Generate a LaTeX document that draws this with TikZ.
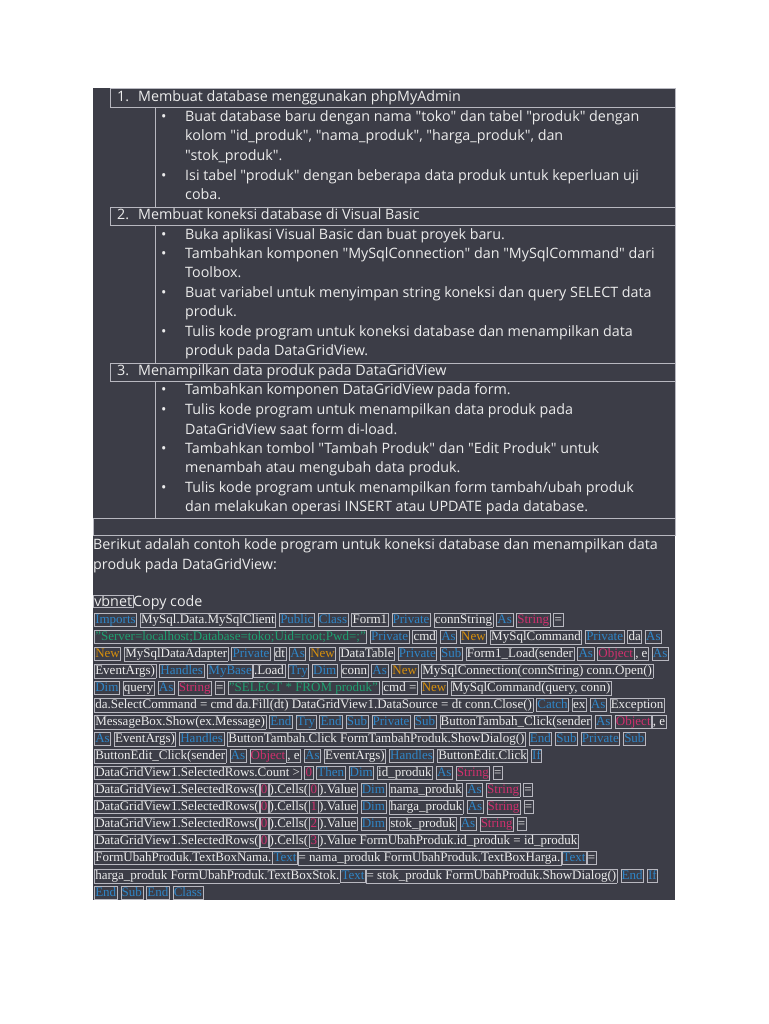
\documentclass[tikz,border=0pt]{standalone}
\usepackage{fontspec}
\setmainfont{Liberation Serif}
\newfontfamily\uifont{Open Sans}
\definecolor{bgd}{HTML}{3C3D47}
\definecolor{fg}{HTML}{ECECEC}
\definecolor{frm}{HTML}{B8B8C0}
\definecolor{kwc}{HTML}{2F86C8}
\definecolor{tyc}{HTML}{D0306E}
\definecolor{nwc}{HTML}{D8900C}
\definecolor{grc}{HTML}{1FA070}
\setlength{\fboxsep}{0.6pt}
\setlength{\fboxrule}{0.5pt}
\newcommand\bx[2]{\fcolorbox{frm}{bgd}{\rule[-2.6pt]{0pt}{11.6pt}\textcolor{#1}{#2}}}
\newcommand\kw[1]{\bx{kwc}{#1}}
\newcommand\ty[1]{\bx{tyc}{#1}}
\newcommand\nw[1]{\bx{nwc}{#1}}
\newcommand\gr[1]{\bx{grc}{#1}}
\newcommand\pl[1]{\bx{fg}{#1}}
\tikzset{
 ui/.style={anchor=west,inner sep=0pt,text=fg,text height=11pt,text depth=3.5pt,font=\uifont\fontsize{14.3pt}{17pt}\selectfont},
 cd/.style={anchor=west,inner sep=0pt,text=fg,font=\fontsize{13pt}{14pt}\selectfont},
 rule/.style={draw=frm,line width=0.5pt}
}
\begin{document}
\begin{tikzpicture}[x=1pt,y=-1pt]
\useasboundingbox (0,0) rectangle (768,1024);
\fill[bgd] (93,88) rectangle (675,900);
\draw[rule] (110,88) rectangle (675,107);
\draw[rule] (155,107) rectangle (675,207);
\draw[rule] (110,207) rectangle (675,225);
\draw[rule] (155,225) rectangle (675,363);
\draw[rule] (110,363) rectangle (675,381);
\draw[rule] (155,381) rectangle (675,518);
\draw[rule] (93,518) rectangle (675,535);
\node[ui] (h1) at (117,98) {1.\hspace{9pt}Membuat database menggunakan phpMyAdmin};
\node[ui] (h2) at (117,216) {2.\hspace{9pt}Membuat koneksi database di Visual Basic};
\node[ui] (h3) at (117,372) {3.\hspace{9pt}Menampilkan data produk pada DataGridView};
\foreach \y in {118,177,236,255,294,333,391,411,450,489}{\node[ui] at (161,\y) {\textbullet};}
\node[ui] (a1) at (185,118) {Buat database baru dengan nama "toko" dan tabel "produk" dengan};
\node[ui] (a2) at (185,137) {kolom "id\_produk", "nama\_produk", "harga\_produk", dan};
\node[ui] (a3) at (185,157) {"stok\_produk".};
\node[ui] (a4) at (185,177) {Isi tabel "produk" dengan beberapa data produk untuk keperluan uji};
\node[ui] (a5) at (185,196) {coba.};
\node[ui] (b1) at (185,236) {Buka aplikasi Visual Basic dan buat proyek baru.};
\node[ui] (b2) at (185,255) {Tambahkan komponen "MySqlConnection" dan "MySqlCommand" dari};
\node[ui] (b3) at (185,274) {Toolbox.};
\node[ui] (b4) at (185,294) {Buat variabel untuk menyimpan string koneksi dan query SELECT data};
\node[ui] (b5) at (185,313) {produk.};
\node[ui] (b6) at (185,333) {Tulis kode program untuk koneksi database dan menampilkan data};
\node[ui] (b7) at (185,352) {produk pada DataGridView.};
\node[ui] (c1) at (185,391) {Tambahkan komponen DataGridView pada form.};
\node[ui] (c2) at (185,411) {Tulis kode program untuk menampilkan data produk pada};
\node[ui] (c3) at (185,431) {DataGridView saat form di-load.};
\node[ui] (c4) at (185,450) {Tambahkan tombol "Tambah Produk" dan "Edit Produk" untuk};
\node[ui] (c5) at (185,469) {menambah atau mengubah data produk.};
\node[ui] (c6) at (185,489) {Tulis kode program untuk menampilkan form tambah/ubah produk};
\node[ui] (c7) at (185,508) {dan melakukan operasi INSERT atau UPDATE pada database.};
\node[ui] (t1) at (93,546) {Berikut adalah contoh kode program untuk koneksi database dan menampilkan data};
\node[ui] (t2) at (93,566) {produk pada DataGridView:};
\node[ui] (t3) at (93,603) {\fcolorbox{frm}{bgd}{vbnet}Copy code};
\node[cd] (l1) at (94,620) {\kw{Imports} \pl{MySql.Data.MySqlClient} \kw{Public} \kw{Class} \pl{Form1} \kw{Private} \pl{connString} \kw{As} \ty{String} \pl{=}};
\node[cd] (l2) at (94,637) {\gr{"Server=localhost;Database=toko;Uid=root;Pwd=;"} \kw{Private} \pl{cmd} \kw{As} \nw{New} \pl{MySqlCommand} \kw{Private} \pl{da} \kw{As}};
\node[cd] (l3) at (94,654) {\nw{New} \pl{MySqlDataAdapter} \kw{Private} \pl{dt} \kw{As} \nw{New} \pl{DataTable} \kw{Private} \kw{Sub} \pl{Form1\_Load(sender} \kw{As} \ty{Object}\pl{, e} \kw{As}};
\node[cd] (l4) at (94,671) {\pl{EventArgs)} \kw{Handles} \kw{MyBase}\pl{.Load} \kw{Try} \kw{Dim} \pl{conn} \kw{As} \nw{New} \pl{MySqlConnection(connString) conn.Open()}};
\node[cd] (l5) at (94,688) {\kw{Dim} \pl{query} \kw{As} \ty{String} \pl{=} \gr{"SELECT * FROM produk"} \pl{cmd =} \nw{New} \pl{MySqlCommand(query, conn)}};
\node[cd] (l6) at (94,705) {\pl{da.SelectCommand = cmd da.Fill(dt) DataGridView1.DataSource = dt conn.Close()} \kw{Catch} \pl{ex} \kw{As} \pl{Exception}};
\node[cd] (l7) at (94,722) {\pl{MessageBox.Show(ex.Message)} \kw{End} \kw{Try} \kw{End} \kw{Sub} \kw{Private} \kw{Sub} \pl{ButtonTambah\_Click(sender} \kw{As} \ty{Object}\pl{, e}};
\node[cd] (l8) at (94,739) {\kw{As} \pl{EventArgs)} \kw{Handles} \pl{ButtonTambah.Click FormTambahProduk.ShowDialog()} \kw{End} \kw{Sub} \kw{Private} \kw{Sub}};
\node[cd] (l9) at (94,756) {\pl{ButtonEdit\_Click(sender} \kw{As} \ty{Object}\pl{, e} \kw{As} \pl{EventArgs)} \kw{Handles} \pl{ButtonEdit.Click} \kw{If}};
\node[cd] (l10) at (94,773) {\pl{DataGridView1.SelectedRows.Count >} \ty{0} \kw{Then} \kw{Dim} \pl{id\_produk} \kw{As} \ty{String} \pl{=}};
\node[cd] (l11) at (94,790) {\pl{DataGridView1.SelectedRows(}\ty{0}\pl{).Cells(}\ty{0}\pl{).Value} \kw{Dim} \pl{nama\_produk} \kw{As} \ty{String} \pl{=}};
\node[cd] (l12) at (94,807) {\pl{DataGridView1.SelectedRows(}\ty{0}\pl{).Cells(}\ty{1}\pl{).Value} \kw{Dim} \pl{harga\_produk} \kw{As} \ty{String} \pl{=}};
\node[cd] (l13) at (94,824) {\pl{DataGridView1.SelectedRows(}\ty{0}\pl{).Cells(}\ty{2}\pl{).Value} \kw{Dim} \pl{stok\_produk} \kw{As} \ty{String} \pl{=}};
\node[cd] (l14) at (94,841) {\pl{DataGridView1.SelectedRows(}\ty{0}\pl{).Cells(}\ty{3}\pl{).Value FormUbahProduk.id\_produk = id\_produk}};
\node[cd] (l15) at (94,858) {\pl{FormUbahProduk.TextBoxNama.}\kw{Text}\pl{ = nama\_produk FormUbahProduk.TextBoxHarga.}\kw{Text}\pl{ =}};
\node[cd] (l16) at (94,876) {\pl{harga\_produk FormUbahProduk.TextBoxStok.}\kw{Text}\pl{ = stok\_produk FormUbahProduk.ShowDialog()} \kw{End} \kw{If}};
\node[cd] (l17) at (94,893) {\kw{End} \kw{Sub} \kw{End} \kw{Class}};
\end{tikzpicture}
\end{document}
